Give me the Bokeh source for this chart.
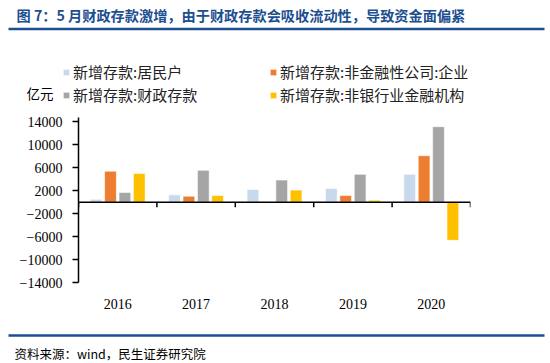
from bokeh.plotting import figure
from bokeh.layouts import column
from bokeh.models import (FactorRange, Range1d, FixedTicker, Label, BoxAnnotation,
                          Legend, LegendItem, ColumnDataSource)
from bokeh.transform import dodge
from bokeh.embed import file_html
from bokeh.resources import INLINE

# ---- data ----
years = ["2016", "2017", "2018", "2019", "2020"]
household = [500, 1270, 2200, 2400, 4850]
corporate = [5400, 1050, 0, 1150, 8100]
fiscal = [1700, 5550, 3850, 4850, 13150]
nonbank = [5000, 1150, 2100, 350, -6650]
series_names = ["新增存款:居民户", "新增存款:非金融性公司:企业",
                "新增存款:财政存款", "新增存款:非银行业金融机构"]
y_ticks = [-14000, -10000, -6000, -2000, 2000, 6000, 10000, 14000]
title_text = "图 7：5 月财政存款激增，由于财政存款会吸收流动性，导致资金面偏紧"
source_text = "资料来源：wind，民生证券研究院"
unit_text = "亿元"

colors = ["#C8D9EB", "#ED7D31", "#A5A5A5", "#FFC000"]
offsets = [-0.275, -0.092, 0.092, 0.275]
CJK = "Noto Sans CJK SC"
SERIF = "Liberation Serif"
BLUE = "#1C4E90"
W = 550


def blank(height):
    f = figure(width=W, height=height, output_backend="svg", toolbar_location=None,
               x_range=Range1d(0, W), y_range=Range1d(height, 0),
               x_axis_type=None, y_axis_type=None, frame_align=False,
               min_border_left=0, min_border_right=0, min_border_top=0, min_border_bottom=0)
    f.outline_line_color = None
    f.grid.visible = False
    return f


# ---- header: title, rule, legend, unit ----
head = blank(110)
head.add_layout(Label(x=16, y=14.5, text=title_text, text_font=CJK, text_font_size="14.2px",
                      text_font_style="bold", text_color=BLUE, text_baseline="middle"))
head.add_layout(BoxAnnotation(left=8, right=544, top=27.2, bottom=29.8,
                              fill_color=BLUE, fill_alpha=1, line_alpha=0))
head.add_layout(Label(x=26, y=92, text=unit_text, text_font=CJK, text_font_size="13.5px",
                      text_color="black", text_baseline="middle"))

# legend-only swatch renderers (zero-size placeholders, outside the visible range)
swatches = [head.vbar(x=[-50], top=[0], bottom=[0], width=0, fill_color=colors[i],
                      line_color="white", line_alpha=0.6) for i in range(4)]


def make_legend(idx, loc):
    lg = Legend(items=[LegendItem(label=series_names[i], renderers=[swatches[i]]) for i in idx],
                location=loc, orientation="vertical")
    lg.padding = 0
    lg.margin = 0
    lg.spacing = 2
    lg.border_line_alpha = 0
    lg.background_fill_alpha = 0
    lg.glyph_width = 8
    lg.glyph_height = 8
    lg.label_standoff = 3
    lg.label_height = 18
    lg.label_text_font = CJK
    lg.label_text_font_size = "15px"
    lg.label_text_color = "#222222"
    lg.label_text_baseline = "middle"
    head.add_layout(lg, "center")


make_legend([0, 2], (62, 5))
make_legend([1, 3], (269, 5))

# ---- main chart ----
src = ColumnDataSource(dict(year=years, s0=household, s1=corporate, s2=fiscal, s3=nonbank))

p = figure(width=W, height=210, output_backend="svg", toolbar_location=None,
           x_range=FactorRange(*years), y_range=Range1d(-14000, 14750), frame_align=False,
           min_border_left=78, min_border_right=80, min_border_top=7, min_border_bottom=38)
p.outline_line_color = None
p.grid.visible = False

for i in range(4):
    p.vbar(x=dodge("year", offsets[i], range=p.x_range), top="s%d" % i, bottom=0,
           width=0.15, source=src, fill_color=colors[i], line_color="white",
           line_alpha=0.6, line_width=1)

n = len(years)
p.segment(x0=[0], y0=[0], x1=[n], y1=[0], line_color="black", line_width=1.5)
p.segment(x0=list(range(n + 1)), y0=[0] * (n + 1), x1=list(range(n + 1)), y1=[-900] * (n + 1),
          line_color="black", line_width=1.5)

p.yaxis.ticker = FixedTicker(ticks=y_ticks)
p.yaxis.axis_line_color = "black"
p.yaxis.axis_line_width = 1.5
p.yaxis.major_tick_out = 6
p.yaxis.major_tick_in = 0
p.yaxis.major_tick_line_width = 1.5
p.yaxis.minor_tick_line_color = None
p.yaxis.major_label_standoff = 10
p.yaxis.major_label_text_font = SERIF
p.yaxis.major_label_text_font_size = "14px"
p.yaxis.major_label_text_color = "black"

p.xaxis.axis_line_color = None
p.xaxis.major_tick_line_color = None
p.xaxis.minor_tick_line_color = None
p.xaxis.major_label_standoff = 10
p.xaxis.major_label_text_font = SERIF
p.xaxis.major_label_text_font_size = "14px"
p.xaxis.major_label_text_color = "black"

# ---- footer: rule and source ----
foot = blank(43)
foot.add_layout(BoxAnnotation(left=8, right=544, top=13.7, bottom=16.3,
                              fill_color=BLUE, fill_alpha=1, line_alpha=0))
foot.add_layout(Label(x=14, y=32.7, text=source_text, text_font=CJK, text_font_size="12.5px",
                      text_color="black", text_baseline="middle"))

layout = column(head, p, foot, spacing=0)
open("out.html", "w").write(file_html(layout, INLINE))
